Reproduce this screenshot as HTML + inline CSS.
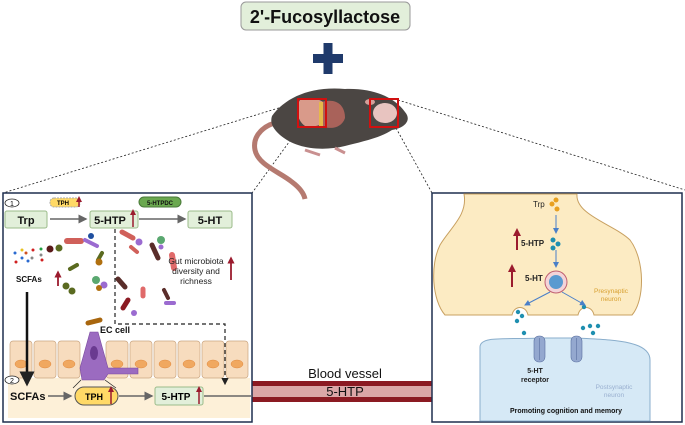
<!DOCTYPE html>
<html><head><meta charset="utf-8"><style>
html,body{margin:0;padding:0;background:#fff;width:685px;height:425px;overflow:hidden}
svg{display:block;font-family:"Liberation Sans",Arial,sans-serif}
</style></head><body>
<svg width="685" height="425" viewBox="0 0 685 425" xmlns="http://www.w3.org/2000/svg">
<defs>
<marker id="ag" markerWidth="6" markerHeight="6" refX="5" refY="3" orient="auto"><path d="M0,0 L6,3 L0,6z" fill="#666"/></marker>
<marker id="ab" markerWidth="6" markerHeight="6" refX="5" refY="3" orient="auto"><path d="M0,0 L6,3 L0,6z" fill="#222"/></marker>
<marker id="abl" markerWidth="6" markerHeight="6" refX="5" refY="3" orient="auto"><path d="M0,0 L6,3 L0,6z" fill="#4a7fc8"/></marker>
<marker id="ar" markerWidth="4" markerHeight="4" refX="2" refY="2" orient="auto"><path d="M0,0 L4,2 L0,4z" fill="#9b1b2e"/></marker>
</defs>
<rect x="241" y="2" width="169" height="28" rx="5" fill="#e2efda" stroke="#999"/>
<text x="325" y="23" font-size="18" font-weight="bold" text-anchor="middle" fill="#111">2'-Fucosyllactose</text>
<rect x="313" y="54" width="30" height="9" fill="#1f3a6b"/><rect x="323.5" y="43" width="9" height="31" fill="#1f3a6b"/>
<g stroke="#222" stroke-dasharray="2,2" fill="none" stroke-width="0.8">
<line x1="298" y1="102" x2="3" y2="193"/><line x1="300" y1="127" x2="252" y2="193"/>
<line x1="398" y1="100" x2="685" y2="190"/><line x1="396" y1="128" x2="432" y2="193"/>
</g>
<path d="M280,122 C265,124 252,135 255,150 C258,165 280,172 292,182 C300,188 304,194 305,199" stroke="#b57a70" stroke-width="5" fill="none"/>
<path d="M276,120 L300,116" stroke="#c48a60" stroke-width="3"/>
<path d="M272,116 C285,98 310,86 345,89 C375,88 395,98 405,112 C412,120 405,128 392,130 C380,138 360,142 345,146 C320,152 295,148 280,135 C272,128 270,122 272,116z" fill="#4b4643"/>
<path d="M300,100 C315,96 325,100 330,110 C332,122 320,128 305,126 C296,120 296,106 300,100z" fill="#d99a8a"/>
<path d="M322,102 C335,98 345,104 345,118 C342,128 330,130 322,126z" fill="#a9625a"/>
<rect x="319" y="102" width="4" height="24" fill="#e6b84a"/>
<ellipse cx="385" cy="113" rx="12" ry="10" fill="#e8c4c0"/>
<ellipse cx="370" cy="102" rx="5" ry="3" fill="#d3a09a"/>
<path d="M305,150 L320,155 M335,148 L345,153" stroke="#c99090" stroke-width="3"/>
<rect x="298" y="99" width="28" height="28" fill="none" stroke="#d01010" stroke-width="2"/>
<rect x="370" y="99" width="28" height="28" fill="none" stroke="#d01010" stroke-width="2"/>
<rect x="252" y="381" width="180" height="21" fill="#8b1a22"/>
<rect x="252" y="386" width="180" height="11" fill="#dba7a7"/>
<text x="345" y="378" font-size="13" text-anchor="middle" fill="#111">Blood vessel</text>
<text x="345" y="396" font-size="13" text-anchor="middle" fill="#111">5-HTP</text>
<rect x="3" y="193" width="249" height="229" fill="#fff" stroke="#1e2f4f" stroke-width="1.5"/>
<rect x="8" y="378" width="242" height="40" fill="#fdf0d8"/>
<g fill="#f7dcbe" stroke="#c9a581" stroke-width="0.7">
<rect x="10" y="341" width="22" height="37" rx="3"/><rect x="34" y="341" width="22" height="37" rx="3"/><rect x="58" y="341" width="22" height="37" rx="3"/><rect x="106" y="341" width="22" height="37" rx="3"/><rect x="130" y="341" width="22" height="37" rx="3"/><rect x="154" y="341" width="22" height="37" rx="3"/><rect x="178" y="341" width="22" height="37" rx="3"/><rect x="202" y="341" width="22" height="37" rx="3"/><rect x="226" y="341" width="22" height="37" rx="3"/>
</g>
<g fill="#f0a860" stroke="#e08a40" stroke-width="0.5">
<ellipse cx="21" cy="364" rx="6" ry="4"/><ellipse cx="45" cy="364" rx="6" ry="4"/><ellipse cx="69" cy="364" rx="6" ry="4"/><ellipse cx="117" cy="364" rx="6" ry="4"/><ellipse cx="141" cy="364" rx="6" ry="4"/><ellipse cx="165" cy="364" rx="6" ry="4"/><ellipse cx="189" cy="364" rx="6" ry="4"/><ellipse cx="213" cy="364" rx="6" ry="4"/><ellipse cx="237" cy="364" rx="6" ry="4"/>
</g>
<path d="M90,332 L98,332 L108,368 L138,368 L138,374 L108,374 L104,380 L82,380 L80,368z" fill="#9b6bc0" stroke="#7a4aa0" stroke-width="0.6"/>
<ellipse cx="94" cy="353" rx="4" ry="7" fill="#6a3a90"/>
<line x1="81" y1="380" x2="73" y2="388" stroke="#222" stroke-width="0.7"/><line x1="105" y1="380" x2="116" y2="388" stroke="#222" stroke-width="0.7"/>
<text x="100" y="333" font-size="9" font-weight="bold" fill="#111">EC cell</text>
<g stroke-linecap="round" fill="none">
<line x1="67" y1="241" x2="81" y2="241" stroke="#d0605a" stroke-width="6"/>
<line x1="85" y1="240" x2="97" y2="246" stroke="#9b6bd0" stroke-width="4"/>
<line x1="102" y1="253" x2="98" y2="260" stroke="#5a6a20" stroke-width="4"/>
<line x1="70" y1="269" x2="77" y2="265" stroke="#5a6a20" stroke-width="4"/>
<line x1="122" y1="232" x2="133" y2="238" stroke="#d0605a" stroke-width="5"/>
<line x1="131" y1="247" x2="137" y2="252" stroke="#d0605a" stroke-width="4"/>
<line x1="152" y1="245" x2="158" y2="258" stroke="#5a2d2a" stroke-width="5"/>
<line x1="172" y1="255" x2="174" y2="268" stroke="#e06a6a" stroke-width="6"/>
<line x1="118" y1="279" x2="125" y2="287" stroke="#5a2d2a" stroke-width="5"/>
<line x1="143" y1="289" x2="143" y2="296" stroke="#e06a6a" stroke-width="5"/>
<line x1="164" y1="290" x2="168" y2="298" stroke="#5a2d2a" stroke-width="4"/>
<line x1="166" y1="303" x2="174" y2="303" stroke="#9b6bd0" stroke-width="4"/>
<line x1="123" y1="308" x2="128" y2="300" stroke="#8b1a22" stroke-width="5"/>
<line x1="88" y1="323" x2="100" y2="320" stroke="#a8660e" stroke-width="5"/>
</g>
<g>
<circle cx="50" cy="249" r="3.5" fill="#5a1a1a"/><circle cx="59" cy="248" r="3.5" fill="#5a6a20"/>
<circle cx="91" cy="236" r="3" fill="#1f4fa0"/><circle cx="99" cy="262" r="3.5" fill="#b07010"/>
<circle cx="66" cy="286" r="3.5" fill="#5a6a20"/><circle cx="72" cy="291" r="3.5" fill="#5a6a20"/>
<circle cx="96" cy="280" r="4" fill="#5aa870"/><circle cx="104" cy="285" r="3.5" fill="#9b6bd0"/><circle cx="99" cy="288" r="3" fill="#b07010"/>
<circle cx="139" cy="242" r="3.5" fill="#9b6bd0"/><circle cx="161" cy="240" r="4" fill="#5aa870"/><circle cx="161" cy="247" r="2.5" fill="#9b6bd0"/>
<circle cx="134" cy="313" r="3" fill="#9b6bd0"/>
<circle cx="15" cy="253" r="1.5" fill="#2a6ad0"/><circle cx="22" cy="250" r="1.5" fill="#e8c020"/><circle cx="26" cy="253" r="1.5" fill="#d05020"/><circle cx="33" cy="250" r="1.5" fill="#d02020"/><circle cx="41" cy="249" r="1.5" fill="#20a040"/><circle cx="22" cy="258" r="1.5" fill="#2a6ad0"/><circle cx="32" cy="258" r="1.5" fill="#888"/><circle cx="41" cy="255" r="1.5" fill="#888"/><circle cx="16" cy="262" r="1.5" fill="#d02020"/><circle cx="28" cy="261" r="1.5" fill="#2a6ad0"/><circle cx="42" cy="260" r="1.5" fill="#d02020"/>
</g>
<text x="16" y="282" font-size="8" font-weight="bold" fill="#111">SCFAs</text>
<line x1="58" y1="286" x2="58" y2="274" stroke="#9b1b2e" stroke-width="1.8" marker-end="url(#ar)"/>
<text x="196" y="264" font-size="8.5" text-anchor="middle" fill="#222">Gut microbiota</text>
<text x="196" y="274" font-size="8.5" text-anchor="middle" fill="#222">diversity and</text>
<text x="196" y="284" font-size="8.5" text-anchor="middle" fill="#222">richness</text>
<line x1="231" y1="280" x2="231" y2="260" stroke="#9b1b2e" stroke-width="1.8" marker-end="url(#ar)"/>
<ellipse cx="12" cy="203" rx="7" ry="4" fill="#fff" stroke="#222" stroke-width="0.8"/><text x="12" y="206" font-size="7" text-anchor="middle">1</text>
<rect x="5" y="211" width="42" height="17" rx="2" fill="#e2efda" stroke="#9bbb8a"/><text x="26" y="224" font-size="11" font-weight="bold" text-anchor="middle" fill="#111">Trp</text>
<line x1="50" y1="219" x2="86" y2="219" stroke="#666" stroke-width="1.5" marker-end="url(#ag)"/>
<rect x="50" y="198" width="30" height="9" rx="4" fill="#ffd966" stroke="#aaa" stroke-dasharray="2,1"/><text x="63" y="205" font-size="6" font-weight="bold" text-anchor="middle">TPH</text>
<line x1="79" y1="207" x2="79" y2="199" stroke="#9b1b2e" stroke-width="1.5" marker-end="url(#ar)"/>
<rect x="90" y="211" width="48" height="17" rx="2" fill="#e2efda" stroke="#9bbb8a"/><text x="110" y="224" font-size="11" font-weight="bold" text-anchor="middle" fill="#111">5-HTP</text>
<line x1="133" y1="227" x2="133" y2="212" stroke="#9b1b2e" stroke-width="1.5" marker-end="url(#ar)"/>
<rect x="139" y="197" width="42" height="10" rx="5" fill="#6aa84f" stroke="#4a7a3a"/><text x="160" y="205" font-size="6" font-weight="bold" text-anchor="middle" fill="#111">5-HTPDC</text>
<line x1="139" y1="219" x2="185" y2="219" stroke="#666" stroke-width="1.5" marker-end="url(#ag)"/>
<rect x="188" y="211" width="44" height="17" rx="2" fill="#e2efda" stroke="#9bbb8a"/><text x="210" y="224" font-size="11" font-weight="bold" text-anchor="middle" fill="#111">5-HT</text>
<path d="M115,229 L115,324 L225,324 L225,384" stroke="#222" stroke-width="1.2" stroke-dasharray="4,3" fill="none" marker-end="url(#ab)"/>
<line x1="27" y1="292" x2="27" y2="384" stroke="#111" stroke-width="2.5" marker-end="url(#ab)"/>
<ellipse cx="12" cy="380" rx="7" ry="4" fill="#fff" stroke="#222" stroke-width="0.8"/><text x="12" y="383" font-size="7" text-anchor="middle">2</text>
<text x="10" y="400" font-size="11" font-weight="bold" fill="#111">SCFAs</text>
<line x1="48" y1="396" x2="71" y2="396" stroke="#666" stroke-width="1.5" marker-end="url(#ag)"/>
<rect x="75" y="387" width="43" height="18" rx="9" fill="#ffd966" stroke="#555"/><text x="94" y="400" font-size="9" font-weight="bold" text-anchor="middle">TPH</text>
<line x1="111" y1="404" x2="111" y2="389" stroke="#9b1b2e" stroke-width="1.5" marker-end="url(#ar)"/>
<line x1="119" y1="396" x2="152" y2="396" stroke="#666" stroke-width="1.5" marker-end="url(#ag)"/>
<rect x="155" y="387" width="48" height="18" rx="2" fill="#e2efda" stroke="#9bbb8a"/><text x="176" y="400" font-size="10" font-weight="bold" text-anchor="middle">5-HTP</text>
<line x1="199" y1="404" x2="199" y2="389" stroke="#9b1b2e" stroke-width="1.5" marker-end="url(#ar)"/>
<line x1="204" y1="396" x2="252" y2="396" stroke="#666" stroke-width="1.5"/>
<rect x="432" y="193" width="250" height="229" fill="#fff" stroke="#1e2f4f" stroke-width="1.5"/>
<path d="M480,347 C480,335 510,340 540,338 L577,338 C610,340 650,340 650,360 L650,421 L480,421z" fill="#d6e9f6" stroke="#8aaecc"/>
<path d="M464,194 C468,215 450,228 440,245 C430,265 432,300 445,315 L512,315 C514,305 526,305 528,315 L578,315 C580,305 592,305 594,315 L632,315 C645,300 645,260 630,240 C615,225 575,215 577,194z" fill="#fcebc3" stroke="#c8a060"/>
<g fill="#94a8cf" stroke="#5a70a0" stroke-width="0.6"><rect x="534" y="336" width="11" height="26" rx="5"/><rect x="571" y="336" width="11" height="26" rx="5"/></g>
<line x1="539.5" y1="338" x2="539.5" y2="360" stroke="#5a70a0" stroke-width="0.6"/><line x1="576.5" y1="338" x2="576.5" y2="360" stroke="#5a70a0" stroke-width="0.6"/>
<g fill="#e8a020"><circle cx="552" cy="204" r="2.5"/><circle cx="556" cy="200" r="2.5"/><circle cx="557" cy="209" r="2.5"/></g>
<line x1="556" y1="215" x2="556" y2="233" stroke="#4a7fc8" marker-end="url(#abl)"/>
<line x1="556" y1="250" x2="556" y2="267" stroke="#4a7fc8" marker-end="url(#abl)"/>
<g fill="#1f8fb0"><circle cx="553" cy="240" r="2.5"/><circle cx="558" cy="244" r="2.5"/><circle cx="553" cy="248" r="2.5"/><circle cx="518" cy="312" r="2.2"/><circle cx="522" cy="316" r="2.2"/><circle cx="517" cy="321" r="2.2"/><circle cx="524" cy="333" r="2.2"/><circle cx="584" cy="307" r="2.2"/><circle cx="583" cy="328" r="2.2"/><circle cx="590" cy="326" r="2.2"/><circle cx="598" cy="326" r="2.2"/><circle cx="593" cy="333" r="2.2"/></g>
<circle cx="556" cy="282" r="11" fill="#f4d4d8" stroke="#c06070"/><circle cx="556" cy="282" r="7" fill="#5a9ad0"/>
<line x1="550" y1="292" x2="525" y2="305" stroke="#4a7fc8" marker-end="url(#abl)"/>
<line x1="562" y1="292" x2="585" y2="305" stroke="#4a7fc8" marker-end="url(#abl)"/>
<text x="533" y="207" font-size="8" fill="#222">Trp</text>
<text x="521" y="246" font-size="8" font-weight="bold" fill="#222">5-HTP</text>
<text x="525" y="281" font-size="8" font-weight="bold" fill="#222">5-HT</text>
<line x1="517" y1="250" x2="517" y2="232" stroke="#9b1b2e" stroke-width="2" marker-end="url(#ar)"/>
<line x1="512" y1="287" x2="512" y2="268" stroke="#9b1b2e" stroke-width="2" marker-end="url(#ar)"/>
<text x="611" y="293" font-size="6.5" text-anchor="middle" fill="#d8a030">Presynaptic</text>
<text x="611" y="301" font-size="6.5" text-anchor="middle" fill="#d8a030">neuron</text>
<text x="535" y="373" font-size="7" font-weight="bold" text-anchor="middle" fill="#222">5-HT</text>
<text x="535" y="382" font-size="7" font-weight="bold" text-anchor="middle" fill="#222">receptor</text>
<text x="614" y="389" font-size="6.5" text-anchor="middle" fill="#9ab0d0">Postsynaptic</text>
<text x="614" y="397" font-size="6.5" text-anchor="middle" fill="#9ab0d0">neuron</text>
<text x="566" y="413" font-size="7" font-weight="bold" text-anchor="middle" fill="#111">Promoting cognition and memory</text>
</svg>
</body></html>
